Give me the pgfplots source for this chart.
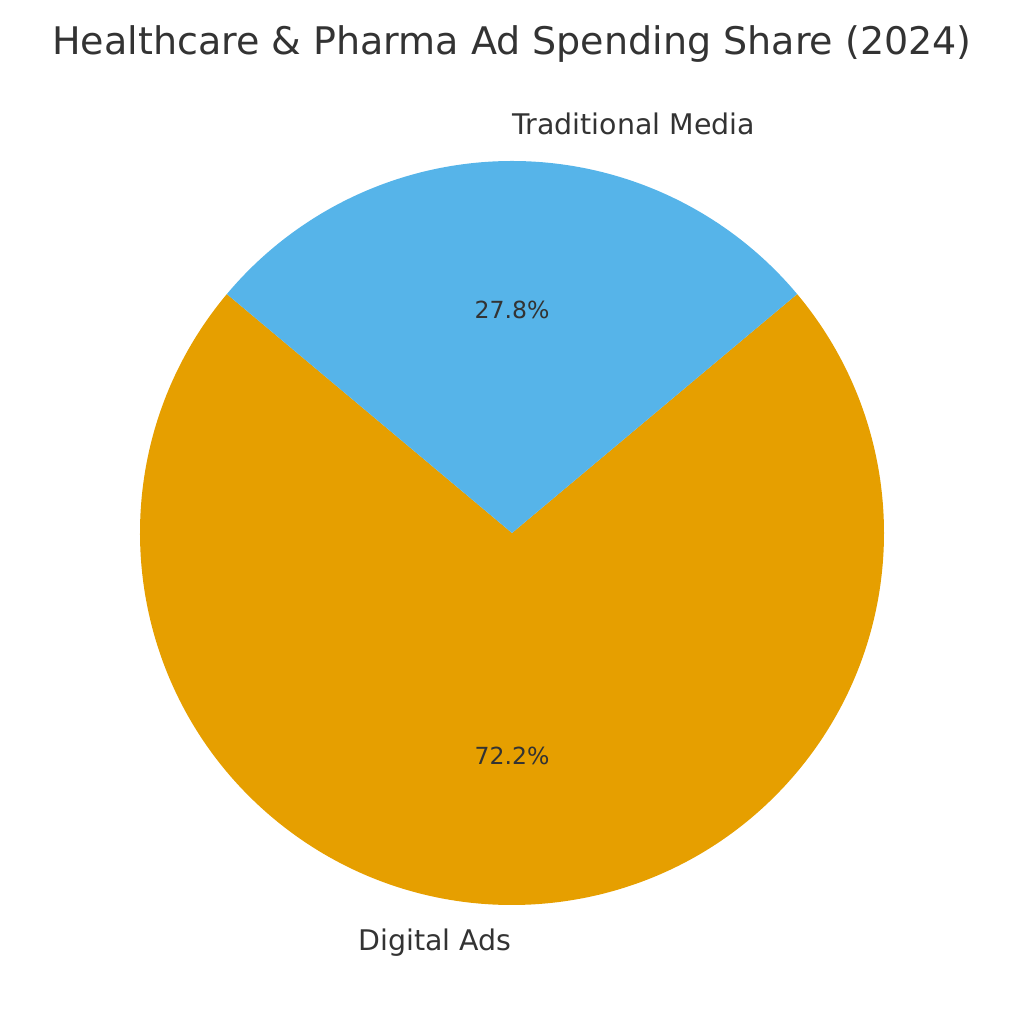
\documentclass[border=0pt]{standalone}
\usepackage{pgfplots}
\usepackage{pgfplotstable}
\pgfplotsset{compat=1.18}
\usepackage{fontspec}
\setmainfont{DejaVu Sans}
\definecolor{digital}{HTML}{E69F00}
\definecolor{trad}{HTML}{56B4E9}
\definecolor{txt}{HTML}{333333}
\pgfplotstableread{
label value
{Digital Ads} 72.2
{Traditional Media} 27.8
}\datatable
\begin{document}
\begin{tikzpicture}
\begin{axis}[
  width=491.52bp, height=491.52bp, scale only axis,
  xmin=-1.3763, xmax=1.3763, ymin=-1.3199, ymax=1.4328,
  hide axis, clip=false,
  /pgf/number format/assume math mode=true,
]
\pgfplotstablegetelem{0}{value}\of\datatable \let\vA\pgfplotsretval
\pgfplotstablegetelem{1}{value}\of\datatable \let\vB\pgfplotsretval
\pgfmathsetmacro\startA{90+\vB*3.6/2}
\pgfmathsetmacro\endA{\startA+\vA*3.6}
\pgfmathsetmacro\endB{\endA+\vB*3.6}
\fill[digital] (axis cs:0,0) -- (axis cs:{cos(\startA)},{sin(\startA)}) arc[start angle=\startA, end angle=\endA, radius=1] -- cycle;
\fill[trad] (axis cs:0,0) -- (axis cs:{cos(\endA)},{sin(\endA)}) arc[start angle=\endA, end angle=\endB, radius=1] -- cycle;
\node[txt, font=\fontsize{18.25bp}{22bp}\selectfont, anchor=base] at (axis cs:0,1.2876) {Healthcare \& Pharma Ad Spending Share (2024)};
\node[txt, font=\fontsize{13.65bp}{17bp}\selectfont, anchor=west, inner sep=0pt] at (axis cs:0,1.1) {Traditional Media};
\node[txt, font=\fontsize{13.65bp}{17bp}\selectfont, anchor=east, inner sep=0pt] at (axis cs:0,-1.1) {Digital Ads};
\node[txt, font=\fontsize{11.3bp}{14bp}\selectfont, inner sep=0pt] at (axis cs:0,0.6) {\pgfmathprintnumber[fixed,precision=1,fixed zerofill,assume math mode=true]{\vB}\%};
\node[txt, font=\fontsize{11.3bp}{14bp}\selectfont, inner sep=0pt] at (axis cs:0,-0.6) {\pgfmathprintnumber[fixed,precision=1,fixed zerofill,assume math mode=true]{\vA}\%};
\path (axis cs:-1.3763,-1.3199) rectangle (axis cs:1.3763,1.4328);
\end{axis}
\end{tikzpicture}
\end{document}
